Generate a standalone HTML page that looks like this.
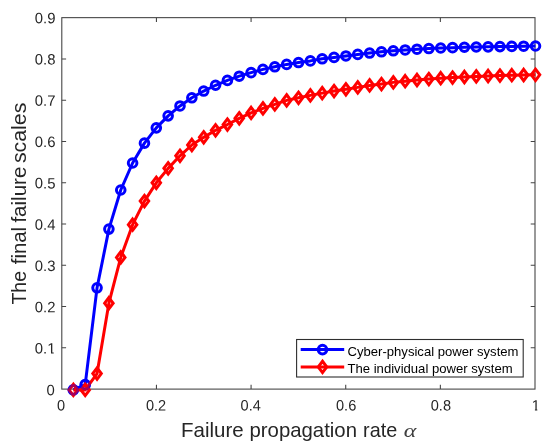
<!DOCTYPE html>
<html><head><meta charset="utf-8"><title>Failure scales</title>
<style>
html,body{margin:0;padding:0;background:#fff;}
svg{display:block;}
text{font-family:"Liberation Sans",Arial,Helvetica,sans-serif;fill:#262626;}
.tk{font-size:15px;text-rendering:geometricPrecision;}
.lb{font-size:20.4px;}
.lg{font-size:13.1px;fill:#000;}
</style></head><body>
<svg width="550" height="447" viewBox="0 0 550 447">
<rect width="550" height="447" fill="#fff"/>
<g stroke="#444" stroke-width="1.08" fill="none">
<rect x="61.8" y="17.65" width="473.20" height="371.45"/>
<path d="M156.44 389.1v-4.3M156.44 17.65v4.3"/>
<path d="M251.08 389.1v-4.3M251.08 17.65v4.3"/>
<path d="M345.72 389.1v-4.3M345.72 17.65v4.3"/>
<path d="M440.36 389.1v-4.3M440.36 17.65v4.3"/>
<path d="M61.8 347.83h4.3M535.0 347.83h-4.3"/>
<path d="M61.8 306.56h4.3M535.0 306.56h-4.3"/>
<path d="M61.8 265.28h4.3M535.0 265.28h-4.3"/>
<path d="M61.8 224.01h4.3M535.0 224.01h-4.3"/>
<path d="M61.8 182.74h4.3M535.0 182.74h-4.3"/>
<path d="M61.8 141.47h4.3M535.0 141.47h-4.3"/>
<path d="M61.8 100.19h4.3M535.0 100.19h-4.3"/>
<path d="M61.8 58.92h4.3M535.0 58.92h-4.3"/>
</g>
<text class="tk" transform="translate(61.00,410.4) rotate(0.05) scale(0.971,1)" text-anchor="middle">0</text>
<text class="tk" transform="translate(156.04,410.4) rotate(0.05) scale(0.971,1)" text-anchor="middle">0.2</text>
<text class="tk" transform="translate(250.68,410.4) rotate(0.05) scale(0.971,1)" text-anchor="middle">0.4</text>
<text class="tk" transform="translate(346.12,410.4) rotate(0.05) scale(0.971,1)" text-anchor="middle">0.6</text>
<text class="tk" transform="translate(440.86,410.4) rotate(0.05) scale(0.971,1)" text-anchor="middle">0.8</text>
<clipPath id="c1"><rect x="525" y="395" width="20" height="13.7"/><rect x="534.9" y="395" width="2.4" height="17"/></clipPath><g clip-path="url(#c1)"><text class="tk" transform="translate(535.90,410.4) rotate(0.05) scale(0.971,1)" text-anchor="middle">1</text></g>
<text class="tk" transform="translate(54.7,395.30) rotate(0.05) scale(0.991,1)" text-anchor="end">0</text>
<clipPath id="c2"><rect x="30" y="339.48" width="28" height="12.5"/><rect x="30" y="339.48" width="17.8" height="16"/><rect x="51.0" y="339.48" width="2.7" height="15"/></clipPath><g clip-path="url(#c2)"><text class="tk" transform="translate(55.5,353.48) rotate(0.05) scale(0.991,1)" text-anchor="end">0.1</text></g>
<text class="tk" transform="translate(55.5,312.21) rotate(0.05) scale(0.991,1)" text-anchor="end">0.2</text>
<text class="tk" transform="translate(55.5,270.93) rotate(0.05) scale(0.991,1)" text-anchor="end">0.3</text>
<text class="tk" transform="translate(55.5,229.66) rotate(0.05) scale(0.991,1)" text-anchor="end">0.4</text>
<text class="tk" transform="translate(55.5,188.39) rotate(0.05) scale(0.991,1)" text-anchor="end">0.5</text>
<text class="tk" transform="translate(55.5,147.12) rotate(0.05) scale(0.991,1)" text-anchor="end">0.6</text>
<text class="tk" transform="translate(55.5,105.84) rotate(0.05) scale(0.991,1)" text-anchor="end">0.7</text>
<text class="tk" transform="translate(55.5,64.57) rotate(0.05) scale(0.991,1)" text-anchor="end">0.8</text>
<text class="tk" transform="translate(55.5,23.30) rotate(0.05) scale(0.991,1)" text-anchor="end">0.9</text>
<text class="lb" x="181" y="436.7" textLength="62.6" lengthAdjust="spacingAndGlyphs">Failure</text><text class="lb" x="249.5" y="436.7" textLength="107.5" lengthAdjust="spacingAndGlyphs">propagation</text><text class="lb" x="363.1" y="436.7" textLength="34.1" lengthAdjust="spacingAndGlyphs">rate</text><text transform="translate(403.8,436.9) scale(1.22,1)" style="font-family:'Liberation Serif',serif;font-style:italic;font-size:19.6px;fill:#404040">α</text>
<text class="lb" transform="translate(25.7,287.75) rotate(-90)" text-anchor="middle" textLength="33.50" lengthAdjust="spacingAndGlyphs">The</text>
<text class="lb" transform="translate(25.7,245.65) rotate(-90)" text-anchor="middle" textLength="37.19" lengthAdjust="spacingAndGlyphs">final</text>
<text class="lb" transform="translate(25.7,194.65) rotate(-90)" text-anchor="middle" textLength="55.94" lengthAdjust="spacingAndGlyphs">failure</text>
<text class="lb" transform="translate(25.7,132.85) rotate(-90)" text-anchor="middle" textLength="60.41" lengthAdjust="spacingAndGlyphs">scales</text>
<polyline points="73.35,389.90 85.20,384.65 97.05,287.81 108.90,229.11 120.75,190.01 132.60,162.98 144.45,143.14 156.30,127.85 168.15,115.86 180.00,105.94 191.85,97.80 203.70,91.06 215.55,85.27 227.40,80.40 239.25,76.18 251.10,72.67 262.95,69.40 274.80,66.80 286.65,64.40 298.50,62.54 310.35,60.89 322.20,58.82 334.05,57.41 345.90,55.93 357.75,54.40 369.60,53.03 381.45,51.79 393.30,50.80 405.15,49.97 417.00,49.19 428.85,48.57 440.70,47.99 452.55,47.66 464.40,47.25 476.25,47.00 488.10,46.83 499.95,46.59 511.80,46.42 523.65,46.21 535.50,46.01" fill="none" stroke="#0000ff" stroke-width="3.0" stroke-linejoin="round"/>
<g fill="none" stroke="#0000ff" stroke-width="3.0" stroke-linejoin="miter" stroke-miterlimit="10">
<circle cx="73.35" cy="389.90" r="4.3"/>
<circle cx="85.20" cy="384.65" r="4.3"/>
<circle cx="97.05" cy="287.81" r="4.3"/>
<circle cx="108.90" cy="229.11" r="4.3"/>
<circle cx="120.75" cy="190.01" r="4.3"/>
<circle cx="132.60" cy="162.98" r="4.3"/>
<circle cx="144.45" cy="143.14" r="4.3"/>
<circle cx="156.30" cy="127.85" r="4.3"/>
<circle cx="168.15" cy="115.86" r="4.3"/>
<circle cx="180.00" cy="105.94" r="4.3"/>
<circle cx="191.85" cy="97.80" r="4.3"/>
<circle cx="203.70" cy="91.06" r="4.3"/>
<circle cx="215.55" cy="85.27" r="4.3"/>
<circle cx="227.40" cy="80.40" r="4.3"/>
<circle cx="239.25" cy="76.18" r="4.3"/>
<circle cx="251.10" cy="72.67" r="4.3"/>
<circle cx="262.95" cy="69.40" r="4.3"/>
<circle cx="274.80" cy="66.80" r="4.3"/>
<circle cx="286.65" cy="64.40" r="4.3"/>
<circle cx="298.50" cy="62.54" r="4.3"/>
<circle cx="310.35" cy="60.89" r="4.3"/>
<circle cx="322.20" cy="58.82" r="4.3"/>
<circle cx="334.05" cy="57.41" r="4.3"/>
<circle cx="345.90" cy="55.93" r="4.3"/>
<circle cx="357.75" cy="54.40" r="4.3"/>
<circle cx="369.60" cy="53.03" r="4.3"/>
<circle cx="381.45" cy="51.79" r="4.3"/>
<circle cx="393.30" cy="50.80" r="4.3"/>
<circle cx="405.15" cy="49.97" r="4.3"/>
<circle cx="417.00" cy="49.19" r="4.3"/>
<circle cx="428.85" cy="48.57" r="4.3"/>
<circle cx="440.70" cy="47.99" r="4.3"/>
<circle cx="452.55" cy="47.66" r="4.3"/>
<circle cx="464.40" cy="47.25" r="4.3"/>
<circle cx="476.25" cy="47.00" r="4.3"/>
<circle cx="488.10" cy="46.83" r="4.3"/>
<circle cx="499.95" cy="46.59" r="4.3"/>
<circle cx="511.80" cy="46.42" r="4.3"/>
<circle cx="523.65" cy="46.21" r="4.3"/>
<circle cx="535.50" cy="46.01" r="4.3"/>
</g>
<polyline points="73.35,389.90 85.20,389.90 97.05,373.61 108.90,303.22 120.75,257.39 132.60,224.69 144.45,201.09 156.30,182.82 168.15,168.35 180.00,155.79 191.85,145.00 203.70,137.35 215.55,130.33 227.40,124.54 239.25,118.34 251.10,112.97 262.95,108.42 274.80,104.41 286.65,100.40 298.50,97.80 310.35,95.40 322.20,93.13 334.05,91.06 345.90,89.32 357.75,87.38 369.60,85.40 381.45,84.03 393.30,82.38 405.15,81.18 417.00,79.98 428.85,79.07 440.70,78.21 452.55,77.59 464.40,77.01 476.25,76.39 488.10,76.01 499.95,75.60 511.80,75.19 523.65,74.98 535.50,74.82" fill="none" stroke="#ff0000" stroke-width="3.0" stroke-linejoin="round"/>
<g fill="none" stroke="#ff0000" stroke-width="3.0" stroke-linejoin="miter" stroke-miterlimit="10">
<path d="M73.35 384.25l4.25 5.65l-4.25 5.65l-4.25 -5.65z"/>
<path d="M85.20 384.25l4.25 5.65l-4.25 5.65l-4.25 -5.65z"/>
<path d="M97.05 367.96l4.25 5.65l-4.25 5.65l-4.25 -5.65z"/>
<path d="M108.90 297.57l4.25 5.65l-4.25 5.65l-4.25 -5.65z"/>
<path d="M120.75 251.74l4.25 5.65l-4.25 5.65l-4.25 -5.65z"/>
<path d="M132.60 219.04l4.25 5.65l-4.25 5.65l-4.25 -5.65z"/>
<path d="M144.45 195.44l4.25 5.65l-4.25 5.65l-4.25 -5.65z"/>
<path d="M156.30 177.17l4.25 5.65l-4.25 5.65l-4.25 -5.65z"/>
<path d="M168.15 162.70l4.25 5.65l-4.25 5.65l-4.25 -5.65z"/>
<path d="M180.00 150.14l4.25 5.65l-4.25 5.65l-4.25 -5.65z"/>
<path d="M191.85 139.35l4.25 5.65l-4.25 5.65l-4.25 -5.65z"/>
<path d="M203.70 131.70l4.25 5.65l-4.25 5.65l-4.25 -5.65z"/>
<path d="M215.55 124.68l4.25 5.65l-4.25 5.65l-4.25 -5.65z"/>
<path d="M227.40 118.89l4.25 5.65l-4.25 5.65l-4.25 -5.65z"/>
<path d="M239.25 112.69l4.25 5.65l-4.25 5.65l-4.25 -5.65z"/>
<path d="M251.10 107.32l4.25 5.65l-4.25 5.65l-4.25 -5.65z"/>
<path d="M262.95 102.77l4.25 5.65l-4.25 5.65l-4.25 -5.65z"/>
<path d="M274.80 98.76l4.25 5.65l-4.25 5.65l-4.25 -5.65z"/>
<path d="M286.65 94.75l4.25 5.65l-4.25 5.65l-4.25 -5.65z"/>
<path d="M298.50 92.15l4.25 5.65l-4.25 5.65l-4.25 -5.65z"/>
<path d="M310.35 89.75l4.25 5.65l-4.25 5.65l-4.25 -5.65z"/>
<path d="M322.20 87.48l4.25 5.65l-4.25 5.65l-4.25 -5.65z"/>
<path d="M334.05 85.41l4.25 5.65l-4.25 5.65l-4.25 -5.65z"/>
<path d="M345.90 83.67l4.25 5.65l-4.25 5.65l-4.25 -5.65z"/>
<path d="M357.75 81.73l4.25 5.65l-4.25 5.65l-4.25 -5.65z"/>
<path d="M369.60 79.75l4.25 5.65l-4.25 5.65l-4.25 -5.65z"/>
<path d="M381.45 78.38l4.25 5.65l-4.25 5.65l-4.25 -5.65z"/>
<path d="M393.30 76.73l4.25 5.65l-4.25 5.65l-4.25 -5.65z"/>
<path d="M405.15 75.53l4.25 5.65l-4.25 5.65l-4.25 -5.65z"/>
<path d="M417.00 74.33l4.25 5.65l-4.25 5.65l-4.25 -5.65z"/>
<path d="M428.85 73.42l4.25 5.65l-4.25 5.65l-4.25 -5.65z"/>
<path d="M440.70 72.56l4.25 5.65l-4.25 5.65l-4.25 -5.65z"/>
<path d="M452.55 71.94l4.25 5.65l-4.25 5.65l-4.25 -5.65z"/>
<path d="M464.40 71.36l4.25 5.65l-4.25 5.65l-4.25 -5.65z"/>
<path d="M476.25 70.74l4.25 5.65l-4.25 5.65l-4.25 -5.65z"/>
<path d="M488.10 70.36l4.25 5.65l-4.25 5.65l-4.25 -5.65z"/>
<path d="M499.95 69.95l4.25 5.65l-4.25 5.65l-4.25 -5.65z"/>
<path d="M511.80 69.54l4.25 5.65l-4.25 5.65l-4.25 -5.65z"/>
<path d="M523.65 69.33l4.25 5.65l-4.25 5.65l-4.25 -5.65z"/>
<path d="M535.50 69.17l4.25 5.65l-4.25 5.65l-4.25 -5.65z"/>
</g>
<g fill="none" stroke="#0000ff" stroke-width="3.0" opacity="0.35"><circle cx="73.35" cy="389.90" r="4.3"/><circle cx="85.20" cy="384.65" r="4.3"/></g>
<rect x="296.6" y="339.5" width="226.6" height="37.5" fill="#fff" stroke="#2e2e2e" stroke-width="1.1"/>
<g fill="none" stroke="#0000ff" stroke-width="3.0"><path d="M300.7 349.6H344.2"/><circle cx="322.50" cy="349.60" r="4.3"/></g>
<text class="lg" x="347.5" y="355.5">Cyber-physical power system</text>
<g fill="none" stroke="#ff0000" stroke-width="3.0"><path d="M300.7 366.9H344.2"/><path d="M322.50 361.25l4.25 5.65l-4.25 5.65l-4.25 -5.65z"/></g>
<text class="lg" x="347.5" y="372.5">The individual power system</text>
</svg></body></html>
